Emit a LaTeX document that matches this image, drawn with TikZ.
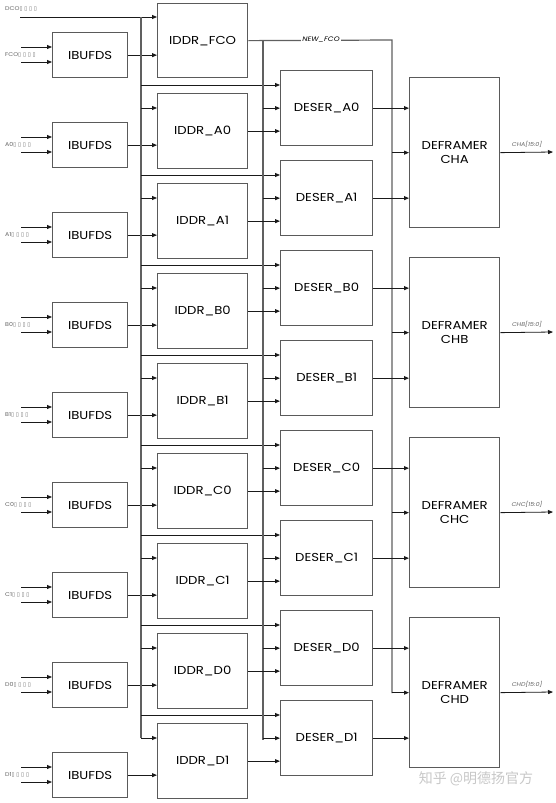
\documentclass[tikz,border=0pt]{standalone}
\usepackage{fontspec}
\setmainfont[FakeStretch=1.15]{Poppins}
\newfontfamily\dejavu{DejaVu Sans}
\newfontfamily\cjk{Noto Sans CJK SC}
\usetikzlibrary{arrows.meta}
\definecolor{boxgray}{HTML}{5A5A5A}
\definecolor{busgray}{HTML}{606060}
\definecolor{linec}{HTML}{1A1A1A}
\definecolor{wm}{HTML}{C8C8C8}
\begin{document}
\begin{tikzpicture}[x=1pt,y=-1pt,
  blk/.style={draw=boxgray,line width=1.3pt,anchor=north west,inner sep=0pt,align=center,font=\fontsize{11.5}{14}\selectfont},
  ibuf/.style={blk,minimum width=75pt,minimum height=45pt},
  iddr/.style={blk,minimum width=90pt,minimum height=75pt},
  deser/.style={blk,minimum width=92pt,minimum height=75pt},
  defr/.style={blk,minimum width=90pt,minimum height=150pt},
  arr/.style={-{Triangle[length=5pt,width=4pt]},line width=0.8pt,draw=linec},
  bus/.style={line width=1.2pt,draw=busgray},
  lab/.style={anchor=west,inner sep=0pt,text=black!60,font=\fontsize{5.5}{6}\selectfont},
  olab/.style={inner sep=0pt,text=black!60,font=\fontsize{5.5}{6}\selectfont\itshape}]
\fill[white] (0,0) rectangle (556,803);
\useasboundingbox (0,0) rectangle (556,803);

% IBUFDS blocks and inputs
\foreach \k/\n in {0/FCO,1/A0,2/A1,3/B0,4/B1,5/C0,6/C1,7/D0,8/D1} {
  \node[ibuf] (ib\n) at (52,{32+90*\k}) {IBUFDS};
  \coordinate (ia\n) at (21,{47+90*\k});
  \coordinate (ic\n) at (21,{62+90*\k});
  \draw[arr] (ia\n) -- (ia\n -| ib\n.west);
  \draw[arr] (ic\n) -- (ic\n -| ib\n.west);
  \node[lab] (lab\n) at (5,{54.5+90*\k}) {\n{\dejavu ▯ ▯ ▯ ▯}};
}

% IDDR and DESER blocks
\node[iddr,minimum height=74pt] (iddrFCO) at (157,3) {IDDR\_FCO};
\foreach \i/\n in {0/A0,1/A1,2/B0,3/B1,4/C0,5/C1,6/D0,7/D1} {
  \node[iddr] (iddr\n) at (157,{93+90*\i}) {IDDR\_\n};
  \node[deser] (des\n) at (280,{70+90*\i}) {DESER\_\n};
}
\foreach \n in {FCO,A0,A1,B0,B1,C0,C1,D0,D1}
  \draw[arr] (ib\n.east) -- (ib\n.east -| iddr\n.west);

% DCO input and bus
\coordinate (dco) at (20,17);
\node[lab] (labDCO) at (5,9) {DCO{\dejavu ▯ ▯ ▯ ▯}};
\draw[arr] (dco) -- (dco -| iddrFCO.west);
\coordinate (dcotop) at (141,17);
\coordinate (dcobot) at (141,738);
\draw[bus] (dcotop) -- (dcobot);
\foreach \i/\n in {0/A0,1/A1,2/B0,3/B1,4/C0,5/C1,6/D0,7/D1} {
  \coordinate (da\n) at (141,{108+90*\i});
  \coordinate (db\n) at (141,{85+90*\i});
  \draw[arr] (da\n) -- (da\n -| iddr\n.west);
  \draw[arr] (db\n) -- (db\n -| des\n.west);
}

% FCO bus
\coordinate (fcoA) at (263,40);
\coordinate (fcoB) at (263,740);
\coordinate (nfA) at (392,40);
\coordinate (nfB) at (392,693);
\draw[bus] (iddrFCO.east) -- (nfA) -- (nfB);
\draw[bus] (fcoA) -- (fcoB);
\node[fill=white,inner xsep=1pt,inner ysep=0.5pt,font=\fontsize{6.5}{7}\selectfont\itshape] (nf) at (321,40) {NEW\_FCO};
\foreach \n in {A0,A1,B0,B1,C0,C1,D0,D1} {
  \draw[arr] (fcoA |- des\n.west) -- (des\n.west);
  \draw[arr] (iddr\n.east) -- (iddr\n.east -| des\n.west);
}

% DEFRAMERs
\foreach \j/\c/\p/\q in {0/A/A0/A1,1/B/B0/B1,2/C/C0/C1,3/D/D0/D1} {
  \node[defr] (df\c) at (409,{77+180*\j}) {DEFRAMER\\CH\c};
  \draw[arr] (des\p.east) -- (des\p.east -| df\c.west);
  \draw[arr] (des\q.east) -- (des\q.east -| df\c.west);
  \draw[arr] (nfA |- df\c.west) -- (df\c.west);
  \coordinate (out\c) at (553,{152+180*\j});
  \draw[arr] (df\c.east) -- (out\c);
  \node[olab] (ol\c) at (527,{144+180*\j}) {CH\c[15:0]};
}

% watermark
\node[text=wm,font=\cjk\fontsize{14}{16}\selectfont] (wmk) at (476,779) {知乎 @明德扬官方};
\end{tikzpicture}
\end{document}
